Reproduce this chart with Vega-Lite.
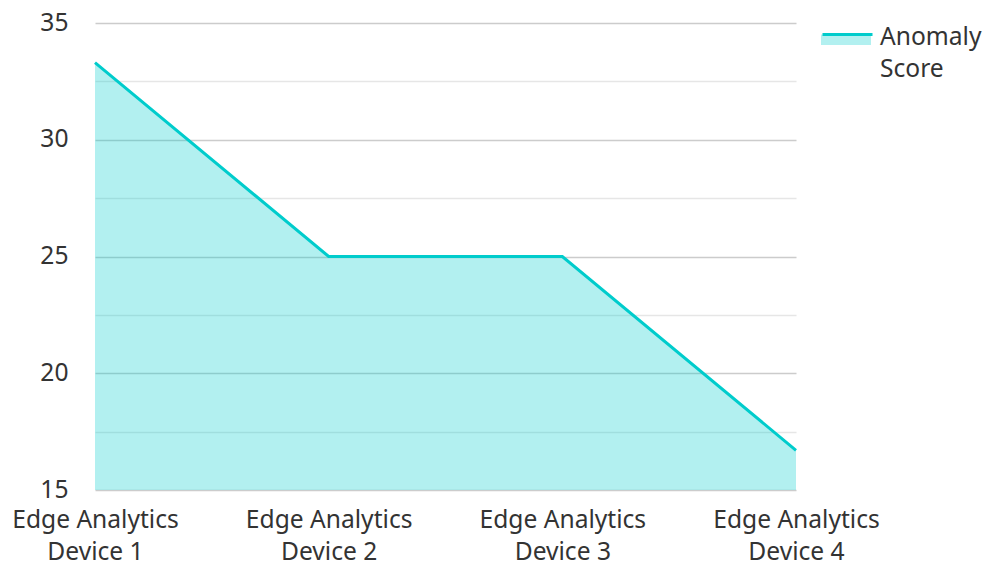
{
  "$schema": "https://vega.github.io/schema/vega-lite/v6.json",
  "width": 701,
  "height": 467,
  "autosize": "none",
  "padding": {"left": 95, "top": 23, "right": 190, "bottom": 72},
  "config": {
    "font": "Noto Sans",
    "view": {"stroke": null},
    "style": {"guide-label": {"lineHeight": 32}},
    "axis": {"labelFont": "Noto Sans", "labelFontSize": 24.6, "labelColor": "#333333", "ticks": false, "domain": false, "title": null}
  },
  "data": {
    "values": [
      {"device": "Edge Analytics Device 1", "score": 33.3, "series": "Anomaly Score", "band": "Anomaly Score fill"},
      {"device": "Edge Analytics Device 2", "score": 25, "series": "Anomaly Score", "band": "Anomaly Score fill"},
      {"device": "Edge Analytics Device 3", "score": 25, "series": "Anomaly Score", "band": "Anomaly Score fill"},
      {"device": "Edge Analytics Device 4", "score": 16.7, "series": "Anomaly Score", "band": "Anomaly Score fill"}
    ]
  },
  "encoding": {
    "x": {
      "field": "device", "type": "nominal", "sort": null,
      "scale": {"type": "point", "padding": 0},
      "axis": {
        "labelAngle": 0, "labelAlign": "center", "labelBaseline": "top", "labelPadding": 18,
        "labelLineHeight": 32, "grid": false,
        "labelExpr": "[slice(datum.label, 0, 14), slice(datum.label, 15)]"
      }
    },
    "y": {
      "field": "score", "type": "quantitative",
      "scale": {"domain": [15, 35], "nice": false, "zero": false},
      "axis": {
        "values": [15, 17.5, 20, 22.5, 25, 27.5, 30, 32.5, 35],
        "labelExpr": "datum.value % 5 === 0 ? datum.label : ''",
        "labelPadding": 27,
        "grid": true,
        "gridColor": {"condition": {"test": "datum.value % 5 === 0", "value": "#cccccc"}, "value": "#e6e6e6"},
        "gridWidth": 1.5
      }
    }
  },
  "layer": [
    {
      "mark": {"type": "area", "fillOpacity": 0.3},
      "encoding": {
        "y2": {"datum": 15},
        "fill": {
          "field": "band", "type": "nominal",
          "scale": {"range": ["#00cccc"]},
          "legend": {
            "orient": "none", "legendX": 726, "legendY": -12, "title": null,
            "symbolType": "M-1,-0.06H1V0.36H-1Z", "symbolSize": 2500, "symbolStrokeWidth": 0,
            "symbolOpacity": 0.3, "labelExpr": "''"
          }
        }
      }
    },
    {
      "mark": {"type": "line", "strokeWidth": 3},
      "encoding": {
        "stroke": {
          "field": "series", "type": "nominal",
          "scale": {"range": ["#00cccc"]},
          "legend": {
            "orient": "none", "legendX": 726, "legendY": -12, "title": null,
            "symbolType": "M-1,-0.12H1", "symbolSize": 2500, "symbolStrokeWidth": 3,
            "labelFont": "Noto Sans", "labelFontSize": 24.6, "labelColor": "#333333",
            "labelOffset": 6, "labelBaseline": "middle",
            "labelExpr": "split(datum.label, ' ')"
          }
        }
      }
    }
  ]
}
